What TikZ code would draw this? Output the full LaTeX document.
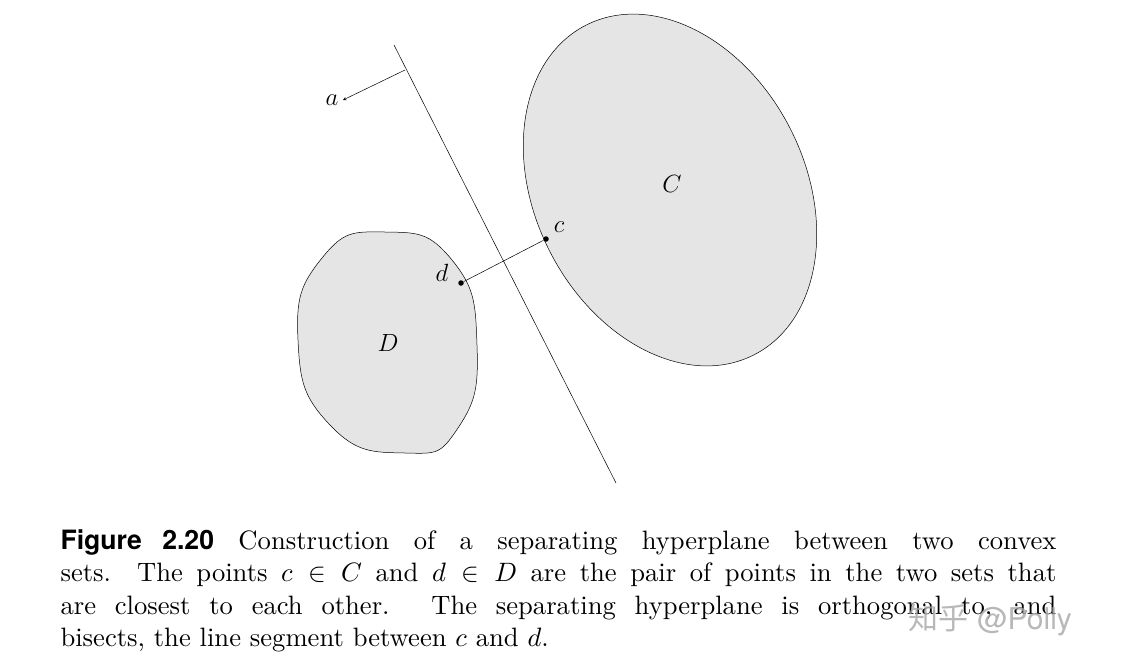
\documentclass[tikz,border=0pt]{standalone}
\usepackage{fontspec}
\newfontfamily\heros{TeX Gyre Heros}
\newfontfamily\cjk{Noto Sans CJK SC}
\begin{document}
\begin{tikzpicture}[x=1pt,y=-1pt,
  set/.style={fill=black!10,draw=black,line width=0.5pt},
  pt/.style={circle,fill=black,inner sep=0pt,minimum size=5.5pt},
  lab/.style={font=\fontsize{24}{24}\selectfont}]
\useasboundingbox (0,0) rectangle (1128,670);
\draw[set,rotate around={-63:(670,190)}] (670,190) ellipse[x radius=185,y radius=135];
\draw[set] plot[smooth cycle,tension=0.9] coordinates{(385,232)(452,260)(477,345)(458,428)(405,453)(330,425)(298,340)(322,258)};
\coordinate (l1) at (394,45); \coordinate (l2) at (616,483);
\draw[line width=0.5pt] (l1) -- (l2);
\coordinate (f) at (405,70); \coordinate (ah) at (343,100);
\draw[line width=0.5pt,-stealth] (f) -- (ah);
\node[pt] (c) at (546,239) {};
\node[pt] (d) at (461,283) {};
\draw[line width=0.5pt] (c) -- (d);
\node[lab] (la) at (332,100) {$a$};
\node[lab] (lc) at (559,227) {$c$};
\node[lab] (ld) at (442,273) {$d$};
\node[lab] (lC) at (672,184) {$C$};
\node[lab] (lD) at (388,343) {$D$};
\node[anchor=north west,inner sep=0pt,scale=2.66,transform shape,text width=374.4pt,align=justify,font=\fontsize{10}{12.22}\selectfont] (cap) at (60,529)
{{\heros\bfseries Figure 2.20} Construction of a separating hyperplane between two convex\linebreak sets. The points $c\in C$ and $d\in D$ are the pair of points in the two sets that\linebreak are closest to each other. The separating hyperplane is orthogonal to, and\linebreak bisects, the line segment between $c$ and $d$.\par};
\node[anchor=west,inner sep=0pt,text=black!35,opacity=0.8,font=\fontsize{30}{30}\selectfont] (wm) at (908,620) {{\cjk 知乎} {\heros @Polly}};
\end{tikzpicture}
\end{document}
